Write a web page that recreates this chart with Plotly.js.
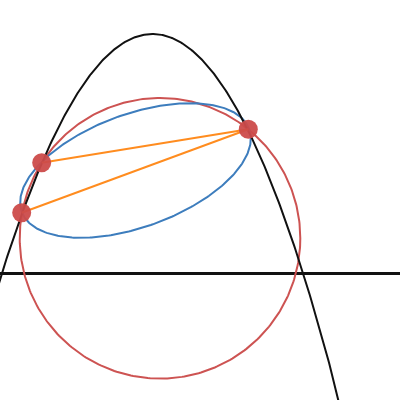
<!DOCTYPE html>
<html>
<head>
<meta charset="utf-8">
<script src="https://cdn.plot.ly/plotly-3.0.1.min.js"></script>
<style>html,body{margin:0;padding:0;background:#fff;}#chart{width:400px;height:400px;}</style>
</head>
<body>
<div id="chart"></div>
<script>
// Parabola y = vertexY - k (x - vertexX)^2
var parabolaVertex = [1.525, 2.39];
var parabolaK = [1.055];
var parabolaXRange = [-0.1, 3.6];
// Circle: center and radius
var circleCenter = [1.60, 0.347];
var circleRadius = [1.403];
// Ellipse: center, semi-axes, rotation (degrees)
var ellipseCenter = [1.355, 1.025];
var ellipseAxes = [1.21, 0.565];
var ellipseAngle = [20];
// Intersection points
var pointsX = [0.417, 0.217, 2.483];
var pointsY = [1.103, 0.603, 1.437];
// Chords: from point index 2 to 0 and 1
var chordFrom = [2, 2];
var chordTo = [0, 1];

var N = 361;
var px = [], py = [];
for (var i = 0; i < N; i++) {
  var x = parabolaXRange[0] + (parabolaXRange[1] - parabolaXRange[0]) * i / (N - 1);
  px.push(x);
  py.push(parabolaVertex[1] - parabolaK[0] * Math.pow(x - parabolaVertex[0], 2));
}
var cx = [], cy = [];
for (var i = 0; i < N; i++) {
  var t = 2 * Math.PI * i / (N - 1);
  cx.push(circleCenter[0] + circleRadius[0] * Math.cos(t));
  cy.push(circleCenter[1] + circleRadius[0] * Math.sin(t));
}
var ex = [], ey = [];
var th = ellipseAngle[0] * Math.PI / 180;
for (var i = 0; i < N; i++) {
  var t = 2 * Math.PI * i / (N - 1);
  var u = ellipseAxes[0] * Math.cos(t), v = ellipseAxes[1] * Math.sin(t);
  ex.push(ellipseCenter[0] + u * Math.cos(th) - v * Math.sin(th));
  ey.push(ellipseCenter[1] + u * Math.sin(th) + v * Math.cos(th));
}
var chordX = [], chordY = [];
for (var j = 0; j < chordFrom.length; j++) {
  chordX.push(pointsX[chordFrom[j]], pointsX[chordTo[j]], null);
  chordY.push(pointsY[chordFrom[j]], pointsY[chordTo[j]], null);
}

var traces = [
  {x: cx, y: cy, mode: 'lines', line: {color: '#cd5352', width: 2}, hoverinfo: 'skip'},
  {x: ex, y: ey, mode: 'lines', line: {color: '#3d7dbd', width: 2}, hoverinfo: 'skip'},
  {x: px, y: py, mode: 'lines', line: {color: '#111111', width: 2}, hoverinfo: 'skip'},
  {x: chordX, y: chordY, mode: 'lines', line: {color: '#ff8c1f', width: 2}, hoverinfo: 'skip'},
  {x: pointsX, y: pointsY, mode: 'markers', marker: {color: '#cc4b4a', size: 19, opacity: 0.95}, hoverinfo: 'skip'}
];

var layout = {
  width: 400, height: 400,
  margin: {l: 0, r: 0, t: 0, b: 0},
  paper_bgcolor: '#ffffff', plot_bgcolor: '#ffffff',
  showlegend: false,
  xaxis: {range: [0, 4], showgrid: false, zeroline: false, showticklabels: false, ticks: '', showline: false},
  yaxis: {range: [-1.27, 2.73], showgrid: false, zeroline: true, zerolinecolor: '#111111', zerolinewidth: 3, showticklabels: false, ticks: '', showline: false}
};

Plotly.newPlot('chart', traces, layout, {displayModeBar: false, staticPlot: true});
</script>
</body>
</html>
